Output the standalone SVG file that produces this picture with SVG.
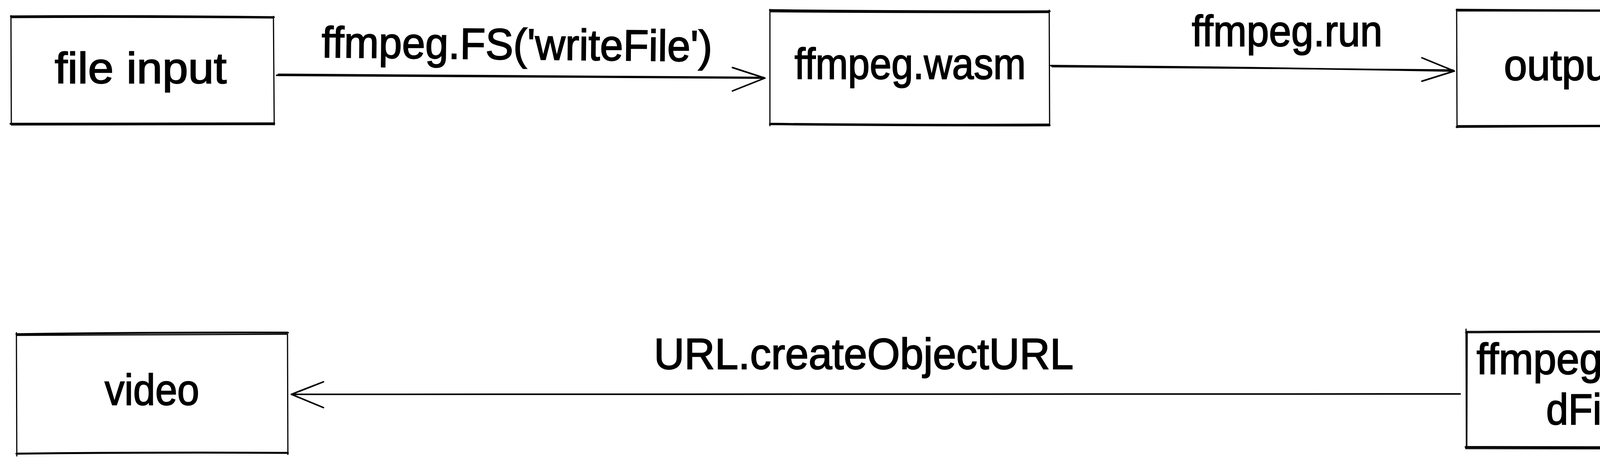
<svg xmlns="http://www.w3.org/2000/svg" width="4536" height="1191" viewBox="0 0 4536 1191">
<style>
.bg{fill:#fff}
.e{fill:none;stroke:#000;stroke-width:3;stroke-linecap:round;stroke-linejoin:round}
.eh{fill:none;stroke:#000;stroke-width:5;stroke-linecap:round}
.c{fill:none;stroke:#000;stroke-width:4;stroke-linecap:round;stroke-linejoin:round}
.t{font-family:"Liberation Sans","Noto Sans",sans-serif;font-size:112px;fill:#000;stroke:#000;stroke-width:2.5}
.wm{font-family:"Noto Sans CJK SC","Liberation Sans",sans-serif;font-size:24px;fill:#c8c8c8}
</style>
<rect class="bg" x="0" y="0" width="4536" height="1191"/>
<g id="connectors">
  <g id="a1">
    <path class="c" d="M708 193 Q1300 194 1958 200"/>
    <path class="e" d="M712 190 Q1350 192 1955 198"/>
    <path class="c" d="M1875 173 L1958 200 L1875 233"/>
  </g>
  <g id="a2">
    <path class="c" d="M2690 168 Q3200 172 3723 182"/>
    <path class="e" d="M2693 171 Q3200 176 3720 179"/>
    <path class="c" d="M3640 148 L3723 182 L3640 208"/>
  </g>
  <g id="a3">
    <path class="e" d="M4124 345 Q4136 560 4149 846"/>
    <path class="e" d="M4126 350 Q4140 600 4147 840"/>
    <path class="e" d="M4116 766 L4149 846 L4173 762"/>
  </g>
  <g id="a4">
    <path class="c" d="M3738 1009 L746 1010"/>
    <path class="c" d="M828 978 L746 1010 L828 1044"/>
  </g>
  <text class="t" x="823" y="152" textLength="1000" lengthAdjust="spacingAndGlyphs" transform="rotate(0.6 1323 152)">ffmpeg.FS('writeFile')</text>
  <text class="t" x="3051" y="118" textLength="488" lengthAdjust="spacingAndGlyphs">ffmpeg.run</text>
  <text class="t" x="1674" y="945" textLength="1074" lengthAdjust="spacingAndGlyphs">URL.createObjectURL</text>
</g>
<g id="n-file-input">
  <path class="eh" d="M28 42 Q360 40 701 44"/>
  <path class="e" d="M30 45 Q360 43 699 46"/>
  <path class="e" d="M28 40 L29 318"/>
  <path class="e" d="M700 42 L702 320"/>
  <path class="eh" d="M27 317 Q360 316 702 316"/>
  <path class="e" d="M29 320 Q360 319 700 319"/>
  <text class="t" x="140" y="213" textLength="440" lengthAdjust="spacingAndGlyphs">file input</text>
</g>
<g id="n-ffmpeg-wasm">
  <path class="eh" d="M1971 26 Q2330 30 2687 29"/>
  <path class="e" d="M1973 30 Q2330 33 2686 32"/>
  <path class="e" d="M1971 24 L1971 322"/>
  <path class="e" d="M2686 26 L2687 322"/>
  <path class="eh" d="M1971 318 Q2330 322 2687 321"/>
  <path class="e" d="M1974 316 Q2330 320 2685 318"/>
  <text class="t" x="2034" y="202" textLength="592" lengthAdjust="spacingAndGlyphs">ffmpeg.wasm</text>
</g>
<g id="n-output">
  <path class="eh" d="M3729 25 Q4120 28 4508 26"/>
  <path class="e" d="M3731 28 Q4120 30 4506 29"/>
  <path class="e" d="M3729 24 L3730 327"/>
  <path class="e" d="M4507 24 L4509 330"/>
  <path class="eh" d="M3729 325 Q4120 322 4508 323"/>
  <path class="e" d="M3731 322 Q4120 320 4506 320"/>
  <text class="t" x="3850" y="205" textLength="534" lengthAdjust="spacingAndGlyphs">output.mp4</text>
</g>
<g id="n-readfile">
  <path class="e" d="M3753 849 Q4130 847 4508 849"/>
  <path class="e" d="M3752 852 Q4130 850 4507 852"/>
  <path class="e" d="M3753 843 L3754 1147"/>
  <path class="e" d="M3756 850 L3755 1142"/>
  <path class="e" d="M4507 843 L4509 1150"/>
  <path class="eh" d="M3752 1145 Q4130 1144 4509 1146"/>
  <path class="e" d="M3752 1149 Q4130 1148 4509 1150"/>
  <text class="t" x="3780" y="958" textLength="696" lengthAdjust="spacingAndGlyphs">ffmpeg.FS('rea</text>
  <text class="t" x="3958" y="1087" textLength="275" lengthAdjust="spacingAndGlyphs">dFile')</text>
</g>
<g id="n-video">
  <path class="eh" d="M42 856 Q390 851 737 852"/>
  <path class="e" d="M44 859 Q390 858 735 856"/>
  <path class="e" d="M42 852 L43 1168"/>
  <path class="e" d="M736 856 L737 1164"/>
  <path class="eh" d="M42 1162 Q390 1158 737 1160"/>
  <text class="t" x="268" y="1037" textLength="242" lengthAdjust="spacingAndGlyphs">video</text>
</g>
<text class="wm" x="4345" y="1160" textLength="160" lengthAdjust="spacingAndGlyphs">@稀土掘金技术社区</text>
</svg>
